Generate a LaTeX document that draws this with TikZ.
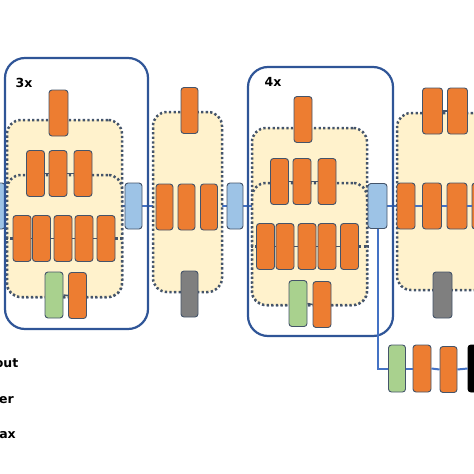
\documentclass[tikz,border=0pt]{standalone}
\usepackage{fontspec}
\setsansfont{DejaVu Sans}
\usepackage{tikz}
\usetikzlibrary{positioning}
\definecolor{convorange}{HTML}{ED7D31}
\definecolor{dropgreen}{HTML}{A9D18E}
\definecolor{poolgray}{HTML}{7F7F7F}
\definecolor{concatblue}{HTML}{9DC3E6}
\definecolor{moduleyellow}{HTML}{FFF2CC}
\definecolor{edgeslate}{HTML}{44546A}
\definecolor{blockblue}{HTML}{2F5597}
\definecolor{flowblue}{HTML}{4472C4}
\pgfdeclarelayer{back}
\pgfdeclarelayer{mid}
\pgfsetlayers{back,mid,main}

\begin{document}
\begin{tikzpicture}[
    x=1pt, y=-1pt,
    box/.style={rectangle, draw=edgeslate, line width=0.9pt, rounded corners=3pt, minimum width=18pt, minimum height=46pt, inner sep=0pt},
    conv/.style={box, fill=convorange},
    drop/.style={box, fill=dropgreen},
    pool/.style={box, fill=poolgray},
    concat/.style={box, fill=concatblue},
    soft/.style={box, fill=black, draw=black},
    module/.style={rectangle, draw=edgeslate, fill=moduleyellow, line width=2.5pt, dash pattern=on 2.3pt off 2.3pt, rounded corners=14pt, inner sep=0pt},
    repeatblock/.style={rectangle, draw=blockblue, line width=2.2pt, rounded corners=20pt, inner sep=0pt},
    flow/.style={draw=flowblue, line width=2pt},
    link/.style={draw=edgeslate, line width=1.4pt},
    dotlink/.style={draw=edgeslate, line width=2.5pt, dash pattern=on 2.3pt off 2.3pt},
    tag/.style={font=\sffamily\bfseries\fontsize{12.5}{14}\selectfont, inner sep=0pt}
]
    \useasboundingbox (0,0) rectangle (474,474);

    \begin{pgfonlayer}{mid}
    \node[module, minimum width=115pt, minimum height=177pt] (modAtop) at (64.5,208.5) {};
    \node[module, minimum width=115pt, minimum height=122pt] (modAlow) at (64.5,236) {};
    \node[module, minimum width=69pt, minimum height=180pt] (modB) at (187.5,202) {};
    \node[module, minimum width=115pt, minimum height=177pt] (modCtop) at (309.5,216.5) {};
    \node[module, minimum width=115pt, minimum height=122pt] (modClow) at (309.5,244) {};
    \node[module, minimum width=113pt, minimum height=177pt] (modD) at (453.5,201.5) {};
    \end{pgfonlayer}

    \node[concat, minimum width=17pt] (cat0) at (-3.5,206) {};

    % first repeated module
    \node[repeatblock, minimum width=143pt, minimum height=271pt] (blockA) at (76.5,193.5) {};
    \node[tag] (tagA) at (24,83) {3x};
    \node[conv, minimum width=19pt] (a0) at (58.5,113) {};
    \node[conv] (a21) at (35.5,173.5) {};
    \node[conv] (a22) at (58,173.5) {};
    \node[conv] (a23) at (83,173.5) {};
    \node[conv] (a31) at (22,238.5) {};
    \node[conv] (a32) at (41.5,238.5) {};
    \node[conv] (a33) at (63,238.5) {};
    \node[conv] (a34) at (84,238.5) {};
    \node[conv] (a35) at (106,238.5) {};
    \node[drop] (a41) at (54,295) {};
    \node[conv] (a42) at (77.5,295.5) {};
    \node[concat, minimum width=17pt] (cat1) at (133.5,206) {};

    % reduction
    \node[conv, minimum width=17pt] (b0) at (189.5,110.5) {};
    \node[conv, minimum width=17pt] (b1) at (164.5,207) {};
    \node[conv, minimum width=17pt] (b2) at (186.5,207) {};
    \node[conv, minimum width=17pt] (b3) at (209,207) {};
    \node[pool, minimum width=17pt] (b4) at (189.5,294) {};
    \node[concat, minimum width=16pt] (cat2) at (235,206) {};

    % second repeated module
    \node[repeatblock, minimum width=145pt, minimum height=269pt] (blockC) at (320.5,201.5) {};
    \node[tag] (tagC) at (273,82) {4x};
    \node[conv] (c0) at (303,119.5) {};
    \node[conv] (c21) at (279.5,181.5) {};
    \node[conv] (c22) at (302,181.5) {};
    \node[conv] (c23) at (327,181.5) {};
    \node[conv] (c31) at (265.5,246.5) {};
    \node[conv] (c32) at (285,246.5) {};
    \node[conv] (c33) at (307,246.5) {};
    \node[conv] (c34) at (327,246.5) {};
    \node[conv] (c35) at (349.5,246.5) {};
    \node[drop] (c41) at (298,303.5) {};
    \node[conv] (c42) at (322,304.5) {};
    \node[concat, minimum width=19pt, minimum height=45pt] (cat3) at (377.5,206) {};

    % next module
    \node[conv, minimum width=20pt] (d1) at (432.5,111) {};
    \node[conv, minimum width=20pt] (d2) at (457.5,111) {};
    \node[conv] (d31) at (406,206) {};
    \node[conv, minimum width=19pt] (d32) at (432,206) {};
    \node[conv, minimum width=20pt] (d33) at (457,206) {};
    \node[conv] (d34) at (481,206) {};
    \node[pool, minimum width=19pt] (d4) at (442.5,295) {};

    % auxiliary head
    \node[drop, minimum width=17pt, minimum height=47pt] (x1) at (397,368.5) {};
    \node[conv, minimum height=47pt] (x2) at (422,368.5) {};
    \node[conv, minimum width=17pt] (x3) at (448.5,369.5) {};
    \node[soft, minimum height=47pt] (x4) at (477,368.5) {};

    \node[tag, anchor=base east] (lgd1) at (18.5,367) {out};
    \node[tag, anchor=base east] (lgd2) at (14,403) {er};
    \node[tag, anchor=base east] (lgd3) at (16,438) {ax};

    \begin{pgfonlayer}{back}
    \draw[flow] (cat0) -- (cat1) -- (cat2) -- (cat3) -- (d34);
    \end{pgfonlayer}

    \draw[dotlink] (modAlow.west |- a31) -- (a31.west);
    \draw[dotlink] (a35.east) -- (modAlow.east |- a35);
    \draw[link] (a31.east) -- (a32.west);
    \draw[link] (a32.east) -- (a33.west);
    \draw[link] (a33.east) -- (a34.west);
    \draw[link] (a34.east) -- (a35.west);
    \draw[link] (a21.east) -- (a22.west);
    \draw[link] (a22.east) -- (a23.west);
    \draw[link] (a41.east) -- (a42.west);

    \draw[dotlink] (modClow.west |- c31) -- (c31.west);
    \draw[dotlink] (c35.east) -- (modClow.east |- c35);
    \draw[link] (c31.east) -- (c32.west);
    \draw[link] (c32.east) -- (c33.west);
    \draw[link] (c33.east) -- (c34.west);
    \draw[link] (c34.east) -- (c35.west);
    \draw[link] (c21.east) -- (c22.west);
    \draw[link] (c22.east) -- (c23.west);
    \draw[link] (c41.east) -- (c42.west);

    \draw[link] (d1.east) -- (d2.west);
    \draw[flow] (d31.east) -- (d32.west);
    \draw[flow] (d32.east) -- (d33.west);
    \draw[flow] (d33.east) -- (d34.west);

    \draw[flow] (cat3.south) |- (x1.west);
    \draw[flow] (x1.east) -- (x2.west);
    \draw[flow] (x2.east) -- (x3.west);
    \draw[flow] (x3.east) -- (x4.west);
\end{tikzpicture}
\end{document}
